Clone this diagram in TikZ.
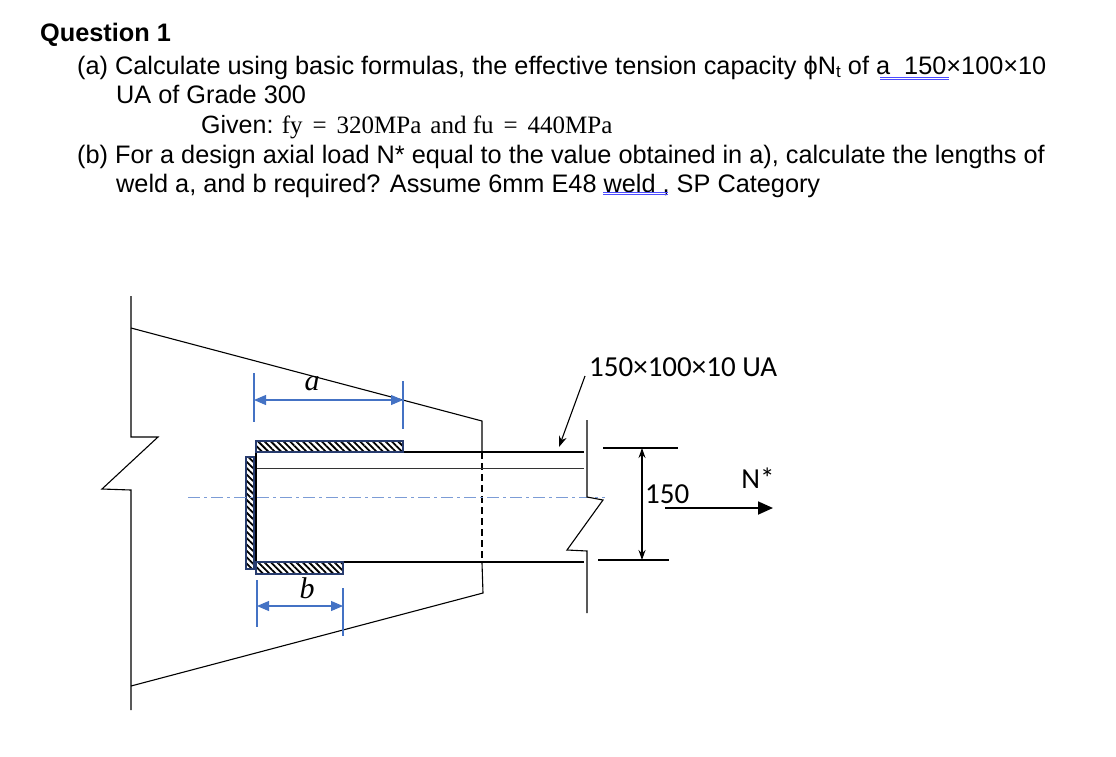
\documentclass[tikz,border=0pt]{standalone}
\usepackage{fontspec}
\setmainfont{Liberation Sans}
\newfontfamily\serifm{Liberation Serif}
\newfontfamily\carlitof{Carlito}
\usetikzlibrary{patterns.meta,arrows.meta}
\definecolor{dimblue}{RGB}{68,114,196}
\definecolor{wblue}{RGB}{40,60,110}
\begin{document}
\begin{tikzpicture}[x=1pt,y=-1pt,
  txt/.style={anchor=base west,inner sep=0pt,font=\fontsize{25.3}{28}\selectfont},
  lbl/.style={inner sep=0pt,font=\carlitof\fontsize{29}{32}\selectfont},
  ln/.style={line width=1.1pt,black},
  weld/.style={pattern={Lines[angle=-45,distance=4.5pt,line width=1.8pt]},pattern color=black},
  dim/.style={dimblue,line width=1.1pt},
  dimarr/.style={dimblue,line width=1.1pt,{Triangle[length=12pt,width=10pt]}-{Triangle[length=12pt,width=10pt]}},
  blk/.style={black,line width=1.1pt}]
\useasboundingbox (0,0) rectangle (1116,756);
% text
\node[txt,font=\bfseries\fontsize{25.3}{28}\selectfont] (q) at (40,41) {Question 1};
\node[txt] (t1) at (77,74) {(a) Calculate using basic formulas, the effective tension capacity ϕN\raisebox{-3pt}{\fontsize{17}{20}\selectfont t} of a\ \ 150×100×10};
\node[txt] (t2) at (116,103) {UA of Grade 300};
\node[txt,font=\serifm\fontsize{25}{28}\selectfont] (t3) at (201,133) {{\fontspec{Liberation Sans}Given:} fy\hspace{10pt}=\hspace{10pt}320MPa\hspace{9pt}and fu\hspace{10pt}=\hspace{10pt}440MPa};
\node[txt] (t4) at (77,163) {(b) For a design axial load N* equal to the value obtained in a), calculate the lengths of};
\node[txt] (t5) at (116,192) {weld a, and b required? Assume 6mm E48 weld\ , SP Category};
\draw[blue!70,line width=0.9pt] (880,77) -- (949,77) (880,79.5) -- (949,79.5);
\draw[blue!70,line width=0.9pt] (603,192) -- (668,192) (603,194.5) -- (668,194.5);
% gusset
\draw[ln] (131,296) -- (131,437) -- (158,437) -- (102,489) -- (131,490) -- (131,710);
\draw[ln] (131,328) -- (482,421) -- (482,452);
\draw[ln,dash pattern=on 7pt off 4pt] (482,452) -- (482,563);
\draw[ln] (482,563) -- (483,593) -- (131,686);
% angle
\draw[ln] (256,452) -- (584,452);
\draw[line width=0.9pt,black!80] (256,468) -- (584,468);
\draw[ln] (256,452) -- (256,562) -- (584,562);
% welds
\fill[weld] (256,441) rectangle (403,452);
\fill[weld] (246,457) rectangle (254,569);
\fill[weld] (256,562) rectangle (343,574);
\draw[wblue,line width=1.4pt] (256,441) rectangle (403,452) (246,457) rectangle (254,569) (256,562) rectangle (343,574);
% centre line
\draw[dimblue!70,line width=1pt,dash pattern=on 12pt off 4pt on 3pt off 4pt] (188,497) -- (605,497);
% dims a, b
\draw[dim] (254,373) -- (254,422) (403,381) -- (403,429);
\draw[dimarr] (254,400) -- (403,400);
\node[font=\serifm\itshape\fontsize{30}{32}\selectfont,inner sep=0pt] (la) at (312,384) {a};
\draw[dim] (257,580) -- (257,627) (343,588) -- (343,636);
\draw[dimarr] (257,606) -- (343,606);
\node[font=\serifm\itshape\fontsize{30}{32}\selectfont,inner sep=0pt] (lb) at (307,588) {b};
% right end
\draw[ln] (587,420) -- (587,497) -- (603,500) -- (567,550) -- (587,551) -- (587,613);
\draw[blk] (603,448) -- (678,448) (598,560) -- (669,560);
\coordinate (d1) at (642,448); \coordinate (d2) at (642,560);
\draw[blk,{Stealth[length=10pt,width=7pt]}-{Stealth[length=10pt,width=7pt]}] (d1) -- (d2);
\node[lbl,anchor=base west] (l150) at (645,503) {150};
\coordinate (n1) at (665,508); \coordinate (n2) at (773,508);
\draw[blk,line width=1.8pt,-{Triangle[length=15pt,width=13pt]}] (n1) -- (n2);
\node[lbl] (lnn) at (758,478) {N*};
\node[lbl,anchor=west] (ua) at (589,367) {150×100×10 UA};
\coordinate (ut) at (559,447);
\draw[blk,-{Stealth[length=11pt,width=8pt]}] (585,376) -- (ut);
\end{tikzpicture}
\end{document}
